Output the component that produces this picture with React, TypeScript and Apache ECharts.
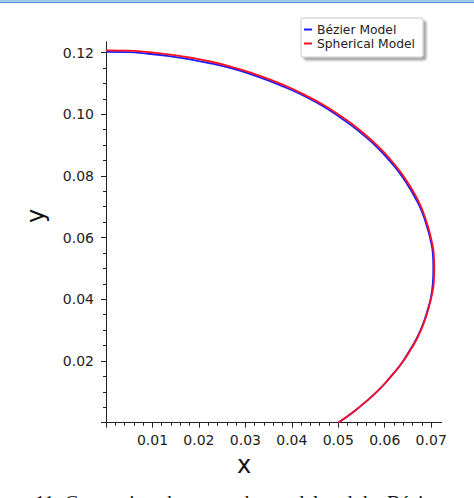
import { useEffect, useRef } from 'react'
import * as echarts from 'echarts'

// points (x, y)
const sphericalX = [0.05, 0.0532, 0.0561, 0.0588, 0.0612, 0.0634, 0.0653, 0.067, 0.0683, 0.0693, 0.0701, 0.0706, 0.0707, 0.0706, 0.0701, 0.0693, 0.0683, 0.067, 0.0653, 0.0634, 0.0612, 0.0588, 0.0561, 0.0532, 0.05, 0.0466, 0.043, 0.0393, 0.0354, 0.0313, 0.0271, 0.0227, 0.0183, 0.0138, 0.0092, 0.0046, 0]
const sphericalY = [0, 0.0034, 0.007, 0.0107, 0.0147, 0.0187, 0.0229, 0.0273, 0.0317, 0.0362, 0.0408, 0.0454, 0.05, 0.0546, 0.0592, 0.0638, 0.0683, 0.0727, 0.0771, 0.0813, 0.0854, 0.0893, 0.093, 0.0966, 0.1, 0.1032, 0.1061, 0.1088, 0.1112, 0.1134, 0.1153, 0.117, 0.1183, 0.1193, 0.1201, 0.1206, 0.1207]
const bezierX = [0.05, 0.0532, 0.0561, 0.0588, 0.0612, 0.0634, 0.0652, 0.0669, 0.0682, 0.0692, 0.07, 0.0704, 0.0705, 0.0704, 0.0699, 0.0691, 0.0681, 0.0667, 0.065, 0.0631, 0.0609, 0.0585, 0.0558, 0.0529, 0.0497, 0.0464, 0.0428, 0.0391, 0.0352, 0.0311, 0.0269, 0.0225, 0.0181, 0.0137, 0.0091, 0.0046, 0]
const bezierY = [0, 0.0034, 0.007, 0.0107, 0.0147, 0.0187, 0.0229, 0.0273, 0.0317, 0.0362, 0.0408, 0.0454, 0.05, 0.0546, 0.0592, 0.0637, 0.0682, 0.0726, 0.077, 0.0812, 0.0852, 0.0891, 0.0928, 0.0963, 0.0997, 0.1029, 0.1058, 0.1084, 0.1108, 0.113, 0.1149, 0.1165, 0.1178, 0.1188, 0.1196, 0.1201, 0.1202]

const seriesNames = ['Bézier Model', 'Spherical Model']
const seriesColors = ['#1a1aff', '#ff1020']

const xTickStep = 0.01
const yTickStep = 0.02
const caption = '11: Comparison between the model and the Bézier'

const toPoints = (xs: number[], ys: number[]) => xs.map((x, i) => [x, ys[i]])

const FONT = 'DejaVu Sans'

export default function App() {
  const chartRef = useRef<HTMLDivElement>(null)

  useEffect(() => {
    if (!chartRef.current) return
    const chart = echarts.init(chartRef.current, undefined, { renderer: 'svg' })

    const hiddenAxis = {
      type: 'value' as const,
      min: 0,
      axisLine: { show: true, lineStyle: { color: '#222', width: 1 } },
      axisTick: { show: false },
      axisLabel: { show: false },
      splitLine: { show: false },
    }

    const tickLabel = {
      fontFamily: FONT,
      fontSize: 14,
      color: '#222',
    }

    const option: echarts.EChartsOption = {
      animation: false,
      backgroundColor: '#fff',
      grid: [
        { left: 106, right: 32.3, top: 41.7, bottom: 75.3 },
        { left: 106, width: 325.2, top: 52.5, height: 370.2 },
      ],
      xAxis: [
        { ...hiddenAxis, gridIndex: 0, max: 0.0723 },
        {
          type: 'value',
          gridIndex: 1,
          min: 0,
          max: 0.07,
          interval: xTickStep,
          axisLine: { show: false },
          axisTick: { show: true, length: 5, lineStyle: { color: '#222' } },
          minorTick: { show: true, splitNumber: 5, length: 3, lineStyle: { color: '#222' } },
          axisLabel: {
            ...tickLabel,
            margin: 10,
            formatter: (v: number) => (v === 0 ? '' : v.toFixed(2)),
          },
          splitLine: { show: false },
          minorSplitLine: { show: false },
        },
      ],
      yAxis: [
        { ...hiddenAxis, gridIndex: 0, max: 0.1235 },
        {
          type: 'value',
          gridIndex: 1,
          min: 0,
          max: 0.12,
          interval: yTickStep,
          axisLine: { show: false },
          axisTick: { show: true, length: 5, lineStyle: { color: '#222' } },
          minorTick: { show: true, splitNumber: 4, length: 3, lineStyle: { color: '#222' } },
          axisLabel: {
            ...tickLabel,
            margin: 12,
            formatter: (v: number) => (v === 0 ? '' : v.toFixed(2)),
          },
          splitLine: { show: false },
          minorSplitLine: { show: false },
        },
      ],
      legend: {
        orient: 'vertical',
        left: 301,
        top: 18,
        padding: [5, 8, 7, 3],
        itemWidth: 8,
        itemHeight: 2,
        itemGap: 1,
        icon: 'rect',
        backgroundColor: '#fff',
        borderColor: '#c8c8c8',
        borderWidth: 1,
        borderRadius: 2,
        shadowColor: 'rgba(0,0,0,0.35)',
        shadowBlur: 2,
        shadowOffsetX: 3,
        shadowOffsetY: 3,
        textStyle: { fontFamily: FONT, fontSize: 12.3, color: '#222', lineHeight: 13 },
        data: seriesNames,
      },
      graphic: [
        { type: 'rect', shape: { x: 0, y: 0, width: 474, height: 2 }, style: { fill: '#9ccaec' } },
        { type: 'rect', shape: { x: 0, y: 2, width: 474, height: 1 }, style: { fill: '#5b9bd5' } },
        {
          type: 'text',
          x: 244,
          y: 465,
          style: { text: 'x', fontFamily: FONT, fontSize: 24, fill: '#111', align: 'center', verticalAlign: 'middle' },
        },
        {
          type: 'text',
          x: 36,
          y: 216,
          rotation: Math.PI / 2,
          style: { text: 'y', fontFamily: FONT, fontSize: 24, fill: '#111', align: 'center', verticalAlign: 'middle' },
        },
        {
          type: 'text',
          x: 35,
          y: 493,
          style: {
            text: caption,
            fontFamily: 'Liberation Serif',
            fontSize: 20,
            fill: '#111',
            align: 'left',
            verticalAlign: 'top',
          },
        },
      ],
      series: [
        {
          name: seriesNames[0],
          type: 'line',
          xAxisIndex: 0,
          yAxisIndex: 0,
          data: toPoints(bezierX, bezierY),
          smooth: true,
          showSymbol: false,
          color: seriesColors[0],
          lineStyle: { color: seriesColors[0], width: 1.8 },
        },
        {
          name: seriesNames[1],
          type: 'line',
          xAxisIndex: 0,
          yAxisIndex: 0,
          data: toPoints(sphericalX, sphericalY),
          smooth: true,
          showSymbol: false,
          color: seriesColors[1],
          lineStyle: { color: seriesColors[1], width: 1.8 },
        },
      ],
    }

    chart.setOption(option)

    return () => {
      chart.dispose()
    }
  }, [])

  return (
    <div
      ref={chartRef}
      style={{ position: 'absolute', left: 0, top: 0, width: 474, height: 498 }}
    />
  )
}
